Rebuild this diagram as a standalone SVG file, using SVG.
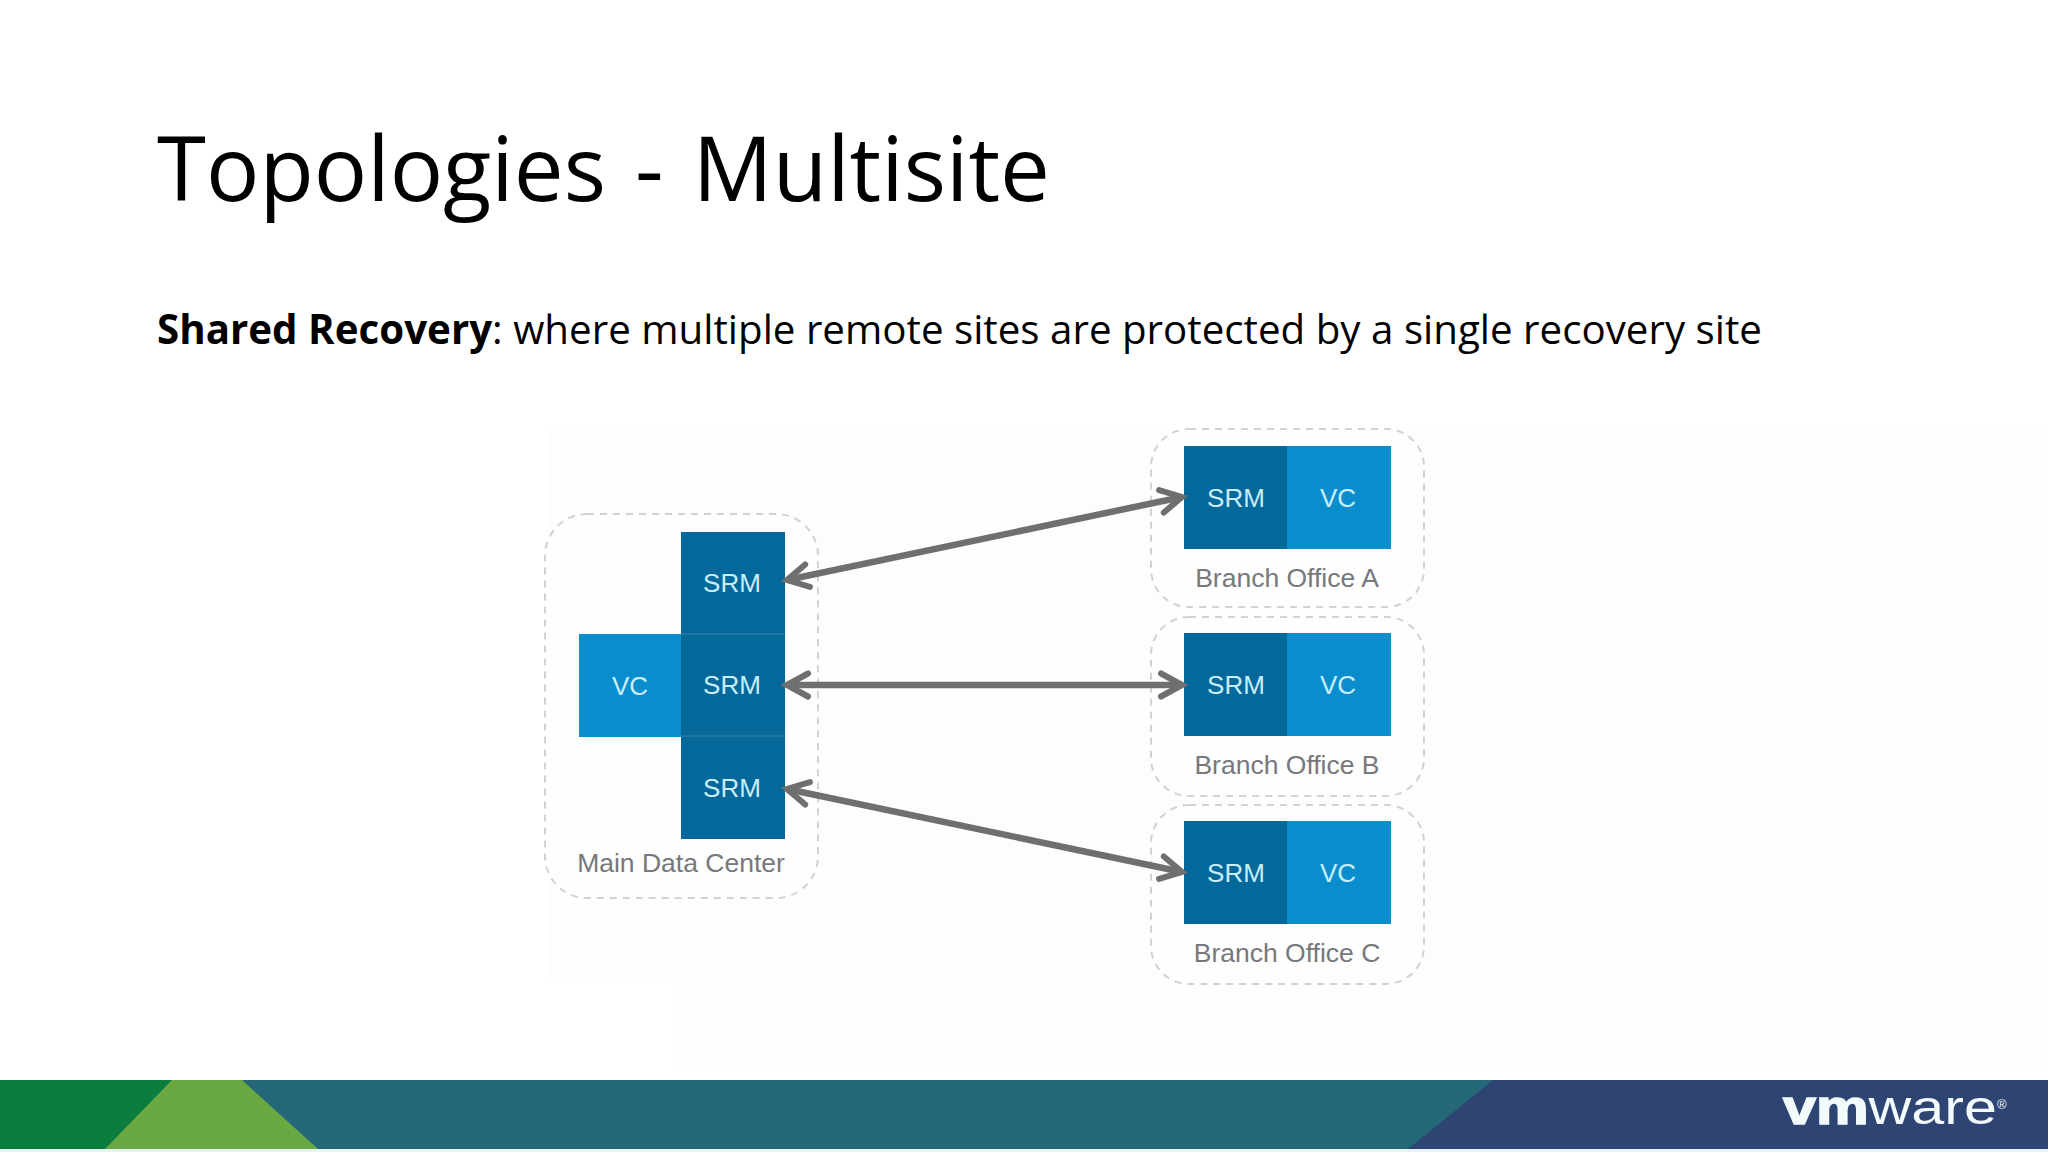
<svg xmlns="http://www.w3.org/2000/svg" width="2048" height="1152" viewBox="0 0 2048 1152">
<style>
.title{font-family:"Open Sans","Noto Sans",sans-serif;fill:#000}
.dash{fill:#fefefe;stroke:#d2d2d4;stroke-width:2;stroke-dasharray:7 6}
.srm{fill:#05689a}.vc{fill:#0a8dcd}
.in{font-family:"Liberation Sans",Arial,sans-serif;font-size:26px;fill:#c8eef9;text-anchor:middle}
.lb{font-family:"Liberation Sans",Arial,sans-serif;font-size:26.5px;fill:#77787b;text-anchor:middle}
.conn{stroke:#6f6f72;stroke-width:6.5;fill:none;marker-start:url(#chev);marker-end:url(#chev)}
.seam{stroke:#2a7ba6;stroke-width:1.5}
</style>
<defs>
<marker id="chev" markerUnits="userSpaceOnUse" markerWidth="34" markerHeight="34" refX="28" refY="17" orient="auto-start-reverse">
<path d="M7 5.500L28 17L7 28.500" fill="none" stroke="#6f6f72" stroke-width="6" stroke-linecap="round"/>
</marker>
</defs>
<rect width="2048" height="1152" fill="#fff"/>
<rect x="548" y="430" width="1500" height="552" fill="#fdfdfd"/>
<rect x="676" y="982" width="1372" height="90" fill="#fefefe"/>
<text class="title" x="157" y="201" font-size="89" word-spacing="6" textLength="893" lengthAdjust="spacingAndGlyphs">Topologies - Multisite</text>
<text class="title" x="157" y="344" font-size="41" textLength="1605" lengthAdjust="spacingAndGlyphs"><tspan font-weight="700">Shared Recovery</tspan>: where multiple remote sites are protected by a single recovery site</text>
<g id="main-data-center">
<rect class="dash" x="545" y="514" width="273" height="384" rx="42"/>
<rect class="vc" x="579" y="634" width="103" height="103"/>
<rect class="srm" x="681" y="532" width="104" height="102"/>
<rect class="srm" x="681" y="634" width="104" height="102"/>
<rect class="srm" x="681" y="736" width="104" height="103"/>
<line class="seam" x1="681" y1="634" x2="785" y2="634"/>
<line class="seam" x1="681" y1="736" x2="785" y2="736"/>
<text class="in" x="630" y="695">VC</text>
<text class="in" x="732" y="592">SRM</text>
<text class="in" x="732" y="694">SRM</text>
<text class="in" x="732" y="797">SRM</text>
<text class="lb" x="681" y="872">Main Data Center</text>
</g>
<g id="branch-a">
<rect class="dash" x="1151" y="429" width="273" height="178" rx="38"/>
<rect class="srm" x="1184" y="446" width="103" height="103"/>
<rect class="vc" x="1287" y="446" width="104" height="103"/>
<text class="in" x="1236" y="507">SRM</text>
<text class="in" x="1338" y="507">VC</text>
<text class="lb" x="1287" y="587">Branch Office A</text>
</g>
<g id="branch-b">
<rect class="dash" x="1151" y="617" width="273" height="179" rx="38"/>
<rect class="srm" x="1184" y="633" width="103" height="103"/>
<rect class="vc" x="1287" y="633" width="104" height="103"/>
<text class="in" x="1236" y="694">SRM</text>
<text class="in" x="1338" y="694">VC</text>
<text class="lb" x="1287" y="774">Branch Office B</text>
</g>
<g id="branch-c">
<rect class="dash" x="1151" y="805" width="273" height="179" rx="38"/>
<rect class="srm" x="1184" y="821" width="103" height="103"/>
<rect class="vc" x="1287" y="821" width="104" height="103"/>
<text class="in" x="1236" y="882">SRM</text>
<text class="in" x="1338" y="882">VC</text>
<text class="lb" x="1287" y="962">Branch Office C</text>
</g>
<g id="connectors">
<line class="conn" x1="787" y1="580" x2="1182" y2="497"/>
<line class="conn" x1="787" y1="685" x2="1182" y2="685"/>
<line class="conn" x1="787" y1="789" x2="1182" y2="872"/>
</g>
<g id="footer">
<rect y="1080" width="2048" height="69" fill="#246878"/>
<polygon points="0,1080 172,1080 105,1149 0,1149" fill="#0b7e3e"/>
<polygon points="172,1080 242,1080 318,1149 105,1149" fill="#6aa842"/>
<polygon points="1493,1080 2048,1080 2048,1149 1408,1149" fill="#2e4473"/>
<rect y="1149" width="2048" height="3" fill="#e8f2f5"/>
<text x="1783" y="1124" font-family="'Liberation Sans',Arial,sans-serif" font-size="48" fill="#f2fafc" textLength="214" lengthAdjust="spacingAndGlyphs"><tspan font-weight="700" stroke="#f2fafc" stroke-width="1.5">vm</tspan>ware</text>
<text x="1997" y="1109" font-family="'Liberation Sans',Arial,sans-serif" font-size="13" fill="#f2fafc">®</text>
</g>
</svg>
